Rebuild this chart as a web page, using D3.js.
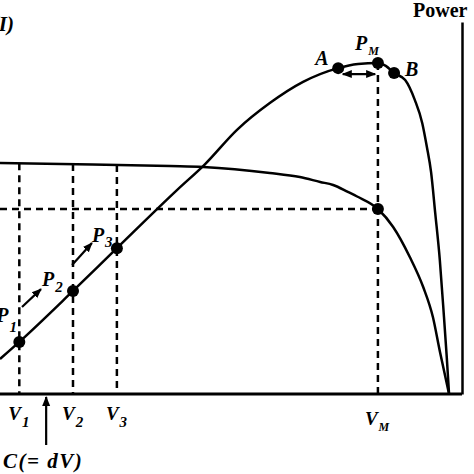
<!DOCTYPE html>
<html><head><meta charset="utf-8">
<script src="https://cdn.jsdelivr.net/npm/d3@7"></script>
<style>html,body{margin:0;padding:0;background:#fff;} svg{display:block;}</style>
</head><body>
<svg id="c" width="474" height="474"></svg>
<script>
// ---- data (normalised units, 0..100) ----
const powerV   = [0, 4.18, 15.8, 25.3, 38.3, 44.4, 51.3, 58.4, 65.6, 73.2, 77.5, 81.8, 83.5, 85.3, 87.7, 89.8, 91.4, 92.4, 93.3, 94.2, 95.2, 96.1, 96.7, 97.2];
const powerP   = [9.4, 14.0, 27.7, 39.2, 54.8, 61.8, 71.0, 78.2, 83.9, 87.6, 88.7, 89.0, 88.2, 86.3, 84.4, 79.0, 72.8, 66.4, 59.7, 48.7, 36.0, 20.7, 9.9, 0];
const currentV = [0, 20, 36.8, 44, 58.4, 64.9, 69.3, 72.1, 75.3, 77.3, 81.8, 85.1, 88.7, 91.6, 93.7, 95.2, 97.2];
const currentI = [100, 99.4, 98.7, 98.3, 95.7, 93.9, 91.8, 90.5, 87.5, 85.5, 80.1, 72.3, 59.3, 46.3, 33.3, 18.5, 0];
const sweepSubs = ["1", "2", "3"];
const sweepV    = [4.18, 15.8, 25.3];
const hillNames = ["A", "PM", "B"];
const hillV     = [73.2, 81.8, 85.3];
const mppV = 81.8;

// ---- scales ----
const svg = d3.select("#c");
const x  = d3.scaleLinear().domain([0, 100]).range([0, 462]);
const yP = d3.scaleLinear().domain([0, 100]).range([394, 22]);
const yI = d3.scaleLinear().domain([0, 100]).range([394, 163]);

function interp(xs, ys, v) {
  const i = d3.bisectRight(xs, v);
  if (i <= 0) return ys[0];
  if (i >= xs.length) return ys[ys.length - 1];
  const t = (v - xs[i - 1]) / (xs[i] - xs[i - 1]);
  return ys[i - 1] + t * (ys[i] - ys[i - 1]);
}
const pAt = v => powerP[powerV.indexOf(v)] ?? interp(powerV, powerP, v);
const iAt = v => interp(currentV, currentI, v);

const defs = svg.append("defs");
defs.append("marker").attr("id", "ah").attr("viewBox", "0 0 10 10")
  .attr("refX", 9).attr("refY", 5).attr("markerWidth", 10).attr("markerHeight", 10)
  .attr("markerUnits", "userSpaceOnUse").attr("orient", "auto-start-reverse")
  .append("path").attr("d", "M0,1 L10,5 L0,9 Z").attr("fill", "#000");

const ink = "#000";
const dash = "7,5";

// ---- axes ----
const xAxis = d3.axisBottom(x).tickValues([]).tickSizeOuter(0);
svg.append("g").attr("transform", `translate(0,${yP(0)})`).call(xAxis)
  .select(".domain").attr("stroke", ink).attr("stroke-width", 3).attr("d", `M${x(-1)},0H${x(100)}`);
const yAxis = d3.axisLeft(yP).tickValues([]).tickSizeOuter(0);
svg.append("g").attr("transform", `translate(${x(100)},0)`).call(yAxis)
  .select(".domain").attr("stroke", ink).attr("stroke-width", 2.5);

// ---- dashed guides ----
const g = svg.append("g").attr("stroke", ink).attr("stroke-width", 2.5).attr("stroke-dasharray", dash).attr("fill", "none");
sweepV.forEach(v => {
  g.append("line").attr("x1", x(v)).attr("x2", x(v)).attr("y1", yI(iAt(v))).attr("y2", yP(0));
});
g.append("line").attr("x1", x(mppV)).attr("x2", x(mppV)).attr("y1", yP(pAt(mppV))).attr("y2", yP(0));
g.append("line").attr("x1", x(0)).attr("x2", x(mppV)).attr("y1", yI(iAt(mppV))).attr("y2", yI(iAt(mppV)));

// ---- curves ----
const lineP = d3.line().x(d => x(d[0])).y(d => yP(d[1])).curve(d3.curveMonotoneX);
const lineI = d3.line().x(d => x(d[0])).y(d => yI(d[1])).curve(d3.curveMonotoneX);
svg.append("path").attr("d", lineI(d3.zip(currentV, currentI))).attr("fill", "none").attr("stroke", ink).attr("stroke-width", 2.5);
svg.append("path").attr("d", lineP(d3.zip(powerV, powerP))).attr("fill", "none").attr("stroke", ink).attr("stroke-width", 2.5);

// ---- dots ----
const r = 6;
sweepV.concat(hillV).forEach(v => {
  svg.append("circle").attr("cx", x(v)).attr("cy", yP(pAt(v))).attr("r", r).attr("fill", ink);
});
svg.append("circle").attr("cx", x(mppV)).attr("cy", yI(iAt(mppV))).attr("r", r).attr("fill", ink);

// ---- arrows ----
const arr = svg.append("g").attr("stroke", ink).attr("stroke-width", 2.2).attr("fill", "none");
const sweepArrows = [[4.76, 23.4, 8.87, 28.2], [15.6, 34.7, 19.9, 40.6]];
sweepArrows.forEach(a => {
  arr.append("line").attr("x1", x(a[0])).attr("y1", yP(a[1])).attr("x2", x(a[2])).attr("y2", yP(a[3])).attr("marker-end", "url(#ah)");
});
arr.append("line").attr("x1", x(74.2)).attr("x2", x(81.2)).attr("y1", yP(86.0)).attr("y2", yP(86.0))
  .attr("marker-start", "url(#ah)").attr("marker-end", "url(#ah)");
const cV = (sweepV[0] + sweepV[1]) / 2;
arr.append("line").attr("x1", x(cV)).attr("x2", x(cV)).attr("y1", yP(0) + 51).attr("y2", yP(0) + 3).attr("marker-end", "url(#ah)");

// ---- text ----
const serif = "'Liberation Serif','DejaVu Serif',serif";
function label(px, py, main, sub, size, subSize, subDy) {
  const t = svg.append("text").attr("x", px).attr("y", py).attr("font-family", serif)
    .attr("font-weight", "bold").attr("font-style", "italic").attr("font-size", size).attr("fill", ink);
  t.append("tspan").text(main);
  if (sub) t.append("tspan").attr("font-size", subSize).attr("dy", subDy).attr("dx", 1).text(sub);
  return t;
}
const pPx = sweepV.map(v => [x(v), yP(pAt(v))]);
label(pPx[0][0] - 23, pPx[0][1] - 20, "P", sweepSubs[0], 20, 15, 10);
label(pPx[1][0] - 31, pPx[1][1] - 5, "P", sweepSubs[1], 20, 15, 6);
label(pPx[2][0] - 25, pPx[2][1] - 6, "P", sweepSubs[2], 20, 15, 5);

const hPx = hillV.map(v => [x(v), yP(pAt(v))]);
label(hPx[0][0] - 23, hPx[0][1] - 3, "A", null, 20);
label(hPx[1][0] - 23, hPx[1][1] - 13, "P", "M", 20, 12, 5);
label(hPx[2][0] + 11, hPx[2][1] + 3, "B", null, 20);

sweepV.forEach((v, i) => label(x(v) - 11, yP(0) + 26, "V", sweepSubs[i], 19, 15, 7));
label(x(mppV) - 13, yP(0) + 31, "V", "M", 19, 12, 6);

label(3, 468, "C(= dV)", null, 21).attr("letter-spacing", 1.5);

svg.append("text").attr("x", 413).attr("y", 17).attr("font-family", serif).attr("font-weight", "bold")
  .attr("font-size", 20).attr("fill", ink).text("Power");
svg.append("text").attr("x", 14).attr("y", 31).attr("text-anchor", "end").attr("font-family", serif)
  .attr("font-weight", "bold").attr("font-style", "italic").attr("font-size", 21).attr("fill", ink).text("Current (I)");
</script>
</body></html>
